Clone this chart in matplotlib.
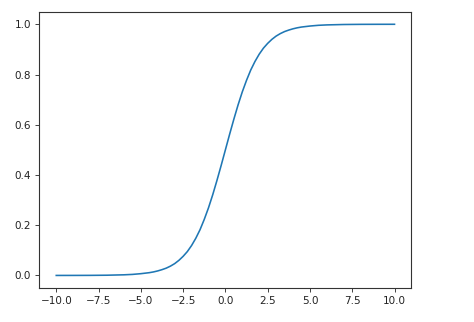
import matplotlib
matplotlib.use("Agg")
import matplotlib.pyplot as plt

# values
x_vals = [-10, -9, -8, -7, -6, -5.5,
          -5, -4.75, -4.5, -4.25, -4, -3.75, -3.5, -3.25, -3, -2.75, -2.5, -2.25,
          -2, -1.75, -1.5, -1.25, -1, -0.75, -0.5, -0.25, 0,
          0.25, 0.5, 0.75, 1, 1.25, 1.5, 1.75, 2, 2.25, 2.5, 2.75, 3, 3.25,
          3.5, 3.75, 4, 4.25, 4.5, 4.75, 5,
          5.5, 6, 7, 8, 9, 10]
y_vals = [0.0000, 0.0001, 0.0003, 0.0009, 0.0025, 0.0041,
          0.007, 0.009, 0.011, 0.014, 0.018, 0.023, 0.029, 0.037, 0.047, 0.060, 0.076, 0.095,
          0.119, 0.148, 0.182, 0.223, 0.269, 0.321, 0.378, 0.438, 0.500,
          0.562, 0.622, 0.679, 0.731, 0.777, 0.818, 0.852, 0.881, 0.905, 0.924, 0.940, 0.953, 0.963,
          0.971, 0.977, 0.982, 0.986, 0.989, 0.991, 0.993,
          0.9959, 0.9975, 0.9991, 0.9997, 0.9999, 1.0000]
x_ticks = [-10.0, -7.5, -5.0, -2.5, 0.0, 2.5, 5.0, 7.5, 10.0]
y_ticks = [0.0, 0.2, 0.4, 0.6, 0.8, 1.0]

plt.rcParams['font.family'] = ['DejaVu Sans']
fig = plt.figure(figsize=(4.74, 3.22), dpi=100)
ax = fig.add_axes([0.083, 0.1056, 0.785, 0.858])
ax.plot(x_vals, y_vals, color='#1f77b4', linewidth=1.15)
ax.set_xticks(x_ticks)
ax.set_yticks(y_ticks)
ax.set_xlim(-11, 11)
ax.set_ylim(-0.05, 1.05)
ax.tick_params(labelsize=7.5, length=2.6, width=0.6, colors='#222222')
for s in ax.spines.values():
    s.set_linewidth(0.8)
    s.set_color('#333333')
fig.savefig('out.png', dpi=100)
